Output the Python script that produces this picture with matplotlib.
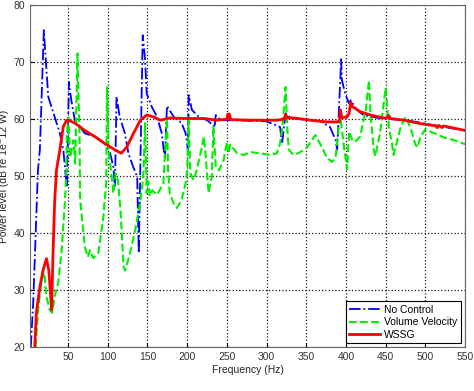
import matplotlib
matplotlib.use('Agg')
import matplotlib.pyplot as plt

plt.rcParams['font.family'] = ['Liberation Sans', 'DejaVu Sans']

# No Control
f_nc = [3, 6, 9, 12, 14.4, 16.5, 19.4, 25, 33, 39.6, 44, 46.7, 48.5, 51, 54, 58.5,
        71, 84, 96, 103, 107, 109, 111, 115, 121.5, 126, 132, 137, 139, 144, 147,
        149, 155.6, 162, 168, 170, 172, 174.5, 183, 193, 198, 200, 201, 202, 206,
        214.5, 225, 233, 234.5, 236, 242, 260, 280, 300, 317, 319.5, 324, 330, 350,
        368, 380, 387, 389, 394, 395, 399, 403.6, 406, 414, 422, 440, 480, 520, 550]
db_nc = [20, 27.7, 39.3, 51, 54.6, 63.3, 75.6, 63.9, 60.4, 57.5, 54.6, 50.5, 48, 66.5,
         63.3, 59.8, 57.5, 56.9, 55.7, 54, 51.6, 48, 63.9, 60.4, 57.5, 54, 51.6, 49.9,
         36.5, 74.7, 70.4, 64.5, 62.1, 60.4, 57.5, 55.1, 53, 62.3, 60.4, 59.3, 57.5,
         55.7, 54, 64.2, 61.6, 60.4, 59.8, 58.9, 58.5, 60.7, 59.8, 59.8, 59.7, 59.6,
         58.6, 55.7, 61, 60.2, 59.9, 59.6, 58.6, 56.3, 54.6, 70.5, 66.8, 64.5, 62.8,
         63.3, 61.6, 60.7, 60.2, 59.7, 58.7, 58]

# Volume Velocity
f_vv = [9, 12.2, 16.5, 20, 22.7, 27, 30, 33, 37.5, 41.6, 45.9, 47.9, 48.4, 50.4, 52.6,
        56.7, 58.9, 61.8, 64.3, 65.2, 71, 75, 77.4, 81.6, 88, 94, 98, 99, 101, 104,
        107, 110, 113, 116, 120, 122, 128, 134.5, 139, 143, 145, 147, 149, 151, 153,
        156, 162, 170, 174.5, 176, 178, 183, 187, 193, 198, 200, 202, 204, 208, 212,
        218.6, 221, 223, 227, 231, 233, 236, 240, 246, 250, 252, 254, 263, 271, 280,
        292, 305, 313, 317, 320, 324, 326, 328, 334, 342.6, 351, 361.5, 370, 376,
        382.6, 387, 391, 393, 397, 401.5, 404, 409, 414, 418, 425, 429, 431, 435, 437,
        443, 450, 454, 458, 460, 469, 475, 481, 487.6, 490, 494, 500, 506.5, 515, 523,
        536, 550]
db_vv = [20, 26.5, 31.8, 33, 28.8, 26.5, 26, 28.8, 31.2, 36.5, 45.3, 51, 57.5, 60.2,
         53.3, 56.3, 52.2, 71.5, 57.5, 45.8, 37.6, 35.8, 37, 35.6, 36.5, 42.3, 48.7,
         65.6, 54.6, 51, 47, 50.5, 49, 44, 34, 33.4, 36.5, 40.5, 44, 47.5, 51, 59.3,
         47, 49, 46.5, 47.5, 46.7, 48.7, 60, 51, 47, 45.2, 44.4, 45.8, 48.7, 51, 59.8,
         50.5, 49.3, 51, 55.1, 56.9, 54, 47, 49.8, 58.8, 51.6, 51, 52.8, 56, 54, 55.5,
         54, 53.7, 54.2, 54, 53.7, 54, 55.7, 58.6, 65.6, 58.6, 54.6, 53.7, 54.2, 55,
         57.2, 55, 53.2, 52.5, 53.3, 58.6, 60.4, 55.7, 51.2, 57.8, 56, 56.3, 57, 61.6,
         66.8, 61, 54.6, 53.5, 57.5, 65.5, 58.6, 55.7, 53.7, 58.6, 60.4, 58.6, 55.5,
         55, 56.9, 58.2, 57.8, 57.3, 56.8, 56.3, 55.6]

# WSSG
f_ws = [8, 10, 14.4, 18.5, 22.7, 25.7, 29.3, 31, 33, 35.3, 39.6, 43.8, 48, 52, 58.5,
        71, 84, 96.3, 109, 117, 124, 132.4, 141, 149, 157.6, 166, 178.7, 200, 221,
        237.6, 250, 251, 252, 253, 255, 280, 313, 322, 324, 326, 334, 355, 376, 389,
        392, 393, 395, 401.5, 404, 406, 408, 418, 431, 447.6, 452, 454, 456, 473, 494,
        513, 515, 517, 521, 523, 550]
db_ws = [20, 26, 30.5, 33.5, 35.5, 33.5, 26.5, 36.5, 45.3, 51, 54.6, 58.6, 59.8, 59.7,
         59.3, 58, 56.9, 55.7, 54.6, 54, 55.1, 57.5, 59.8, 60.7, 60.4, 59.8, 60.2, 60.1,
         60.1, 59.8, 60, 60.8, 60.2, 60.9, 59.9, 59.8, 59.8, 60, 60.8, 60.2, 60.2, 59.8,
         59.5, 59.5, 59.6, 61.6, 60.2, 60.4, 61, 63, 62.2, 61.3, 60.7, 60.2, 60.2, 60.6,
         60.1, 59.8, 59.2, 58.8, 58.5, 58.9, 58.5, 58.8, 58.0]

x_ticks = [50, 100, 150, 200, 250, 300, 350, 400, 450, 500, 550]
y_ticks = [20, 30, 40, 50, 60, 70, 80]

fig = plt.figure(figsize=(4.74, 3.91), dpi=100)
ax = fig.add_axes([0.0633, 0.1125, 0.9177, 0.8745])

ax.plot(f_nc, db_nc, color='#0000ff', linestyle='-.', linewidth=1.3, label='No Control')
ax.plot(f_vv, db_vv, color='#00ee00', linestyle='--', linewidth=1.5, label='Volume Velocity')
ax.plot(f_ws, db_ws, color='#ff0000', linestyle='-', linewidth=2.0, label='WSSG')

ax.set_xlim(2, 550)
ax.set_ylim(20, 80)
ax.set_xticks(x_ticks)
ax.set_yticks(y_ticks)
ax.tick_params(direction='in', labelsize=7.5, labelcolor='#333333', length=3)
ax.grid(True, color='0.1', linestyle=':', linewidth=0.9)
for s in ax.spines.values():
    s.set_color('0.4')
    s.set_linewidth(0.8)

ax.set_xlabel('Frequency (Hz)', fontsize=7.5, color='#222222', labelpad=2)
ax.set_ylabel('Power level (dB re 1e\u207b12 W)', fontsize=7.5, color='#222222')
ax.yaxis.set_label_coords(-0.048, 0.5)

leg = ax.legend(loc='lower right', bbox_to_anchor=(0.99, 0.012), borderaxespad=0,
                fontsize=7.5, fancybox=False, framealpha=1, edgecolor='black',
                handlelength=3.0, handletextpad=0.4, borderpad=0.3, labelspacing=0.25)
leg.get_frame().set_linewidth(0.8)

fig.savefig('out.png', dpi=100)
